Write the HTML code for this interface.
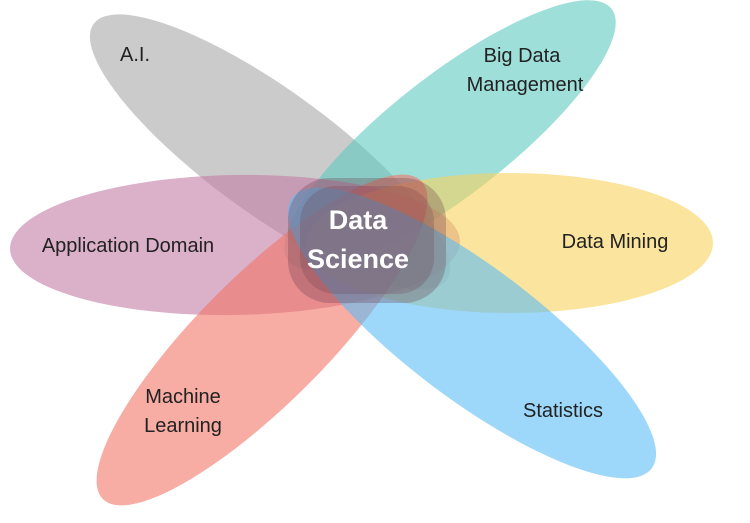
<!DOCTYPE html>
<html><head><meta charset="utf-8"><style>
html,body{margin:0;padding:0;background:#fff;width:750px;height:523px;overflow:hidden}
svg{display:block}
svg text{font-family:"Liberation Sans",sans-serif}
</style></head><body>
<svg width="750" height="523" viewBox="0 0 750 523" xmlns="http://www.w3.org/2000/svg">
<ellipse cx="270" cy="152" rx="218" ry="62" transform="rotate(36 270 152)" fill="#a9a9a9" opacity="0.6"/>
<ellipse cx="450" cy="135" rx="205" ry="60" transform="rotate(-38 450 135)" fill="#5fc9c0" opacity="0.6"/>
<ellipse cx="235" cy="245" rx="225" ry="70" transform="rotate(-1 235 245)" fill="#c37ba5" opacity="0.6"/>
<ellipse cx="510" cy="243" rx="203" ry="70" fill="#f8d25e" opacity="0.6"/>
<ellipse cx="262" cy="340" rx="225" ry="64" transform="rotate(-45 262 340)" fill="#f27467" opacity="0.6"/>
<ellipse cx="472" cy="333" rx="225" ry="66" transform="rotate(37 472 333)" fill="#5bbdf5" opacity="0.6"/>
<rect x="288" y="178" width="158" height="125" rx="42" fill="#6a3a4a" opacity="0.3"/>
<rect x="300" y="186" width="134" height="108" rx="36" fill="#6a3a4a" opacity="0.25"/>
<text x="358" y="229" font-size="27" font-weight="bold" fill="#fff" text-anchor="middle">Data</text>
<text x="358" y="268" font-size="27" font-weight="bold" fill="#fff" text-anchor="middle">Science</text>
<g font-size="20" fill="#222" text-anchor="middle">
<text x="135" y="61">A.I.</text>
<text x="522" y="62">Big Data</text>
<text x="525" y="91">Management</text>
<text x="128" y="252">Application Domain</text>
<text x="615" y="248">Data Mining</text>
<text x="183" y="403">Machine</text>
<text x="183" y="432">Learning</text>
<text x="563" y="417">Statistics</text>
</g>
</svg>
</body></html>
